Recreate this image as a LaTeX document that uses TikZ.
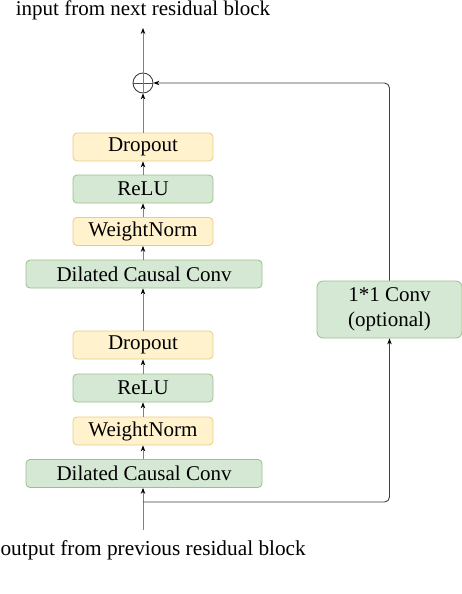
\documentclass[tikz,border=0pt]{standalone}
\usepackage{fontspec}
\setmainfont{Liberation Serif}
\usetikzlibrary{arrows.meta}
\definecolor{gfill}{HTML}{D5E8D4}
\definecolor{gdraw}{HTML}{9CC08A}
\definecolor{yfill}{HTML}{FFF2CC}
\definecolor{ydraw}{HTML}{E6CC85}
\definecolor{lgray}{HTML}{808080}
\begin{document}
\begin{tikzpicture}[x=1pt,y=-1pt,
  txt/.style={font=\fontsize{21}{25}\selectfont, inner sep=0pt},
  gbox/.style={txt, draw=gdraw, fill=gfill, rounded corners=4pt, line width=0.8pt, minimum height=28pt, align=center},
  ybox/.style={txt, draw=ydraw, fill=yfill, rounded corners=4pt, line width=0.8pt, minimum height=28pt},
  conn/.style={draw=lgray, line width=0.8pt, -{Stealth[length=6pt,width=4.5pt,color=black]}},
  skip/.style={draw=black!75, line width=0.9pt, rounded corners=5pt, -{Stealth[length=6pt,width=4.5pt,color=black]}}
]
\useasboundingbox (0,0) rectangle (462,594);
% labels
\node[txt, anchor=base] (toptxt) at (143,16) {input from next residual block};
\node[txt, anchor=base east, font=\fontsize{21.3}{25}\selectfont] (bottxt) at (306,555) {output from previous residual block};
% lower block
\node[gbox, minimum width=236pt] (dc1) at (144,473.5) {Dilated Causal Conv};
\node[ybox, minimum width=140pt] (wn1) at (143,431) {WeightNorm};
\node[gbox, minimum width=140pt] (re1) at (143,388) {ReLU};
\node[ybox, minimum width=140pt] (do1) at (143,345) {Dropout};
% upper block
\node[gbox, minimum width=236pt] (dc2) at (144,274) {Dilated Causal Conv};
\node[ybox, minimum width=140pt] (wn2) at (143,231.5) {WeightNorm};
\node[gbox, minimum width=140pt] (re2) at (143,189) {ReLU};
\node[ybox, minimum width=140pt] (do2) at (143,147) {Dropout};
% 1x1 conv
\node[gbox, minimum width=145pt, minimum height=57pt, rounded corners=6pt] (c11) at (389.5,309.5) {1*1 Conv\\(optional)};
% sum
\node[draw=black!80, line width=0.8pt, circle, minimum size=20pt, inner sep=0pt] (sum) at (143,83) {};
\draw[draw=black!70, line width=0.7pt] (sum.west) -- (sum.east);
\coordinate (inp) at (143,530);
\coordinate (br) at (143,502);
\coordinate (outp) at (143,28);
% connectors
\draw[conn] (inp) -- (dc1.south -| inp);
\draw[conn] (dc1.north -| inp) -- (wn1.south);
\draw[conn] (wn1) -- (re1);
\draw[conn] (re1) -- (do1);
\draw[conn] (do1) -- (dc2.south -| do1);
\draw[conn] (dc2.north -| do1) -- (wn2.south);
\draw[conn] (wn2) -- (re2);
\draw[conn] (re2) -- (do2);
\draw[conn] (do2) -- (sum.south);
\draw[draw=lgray, line width=0.8pt] (sum.south) -- (sum.north);
\draw[conn] (sum.north) -- (outp);
\draw[skip] (br) -| (c11.south);
\draw[skip] (c11.north) |- (sum.east);
\end{tikzpicture}
\end{document}
